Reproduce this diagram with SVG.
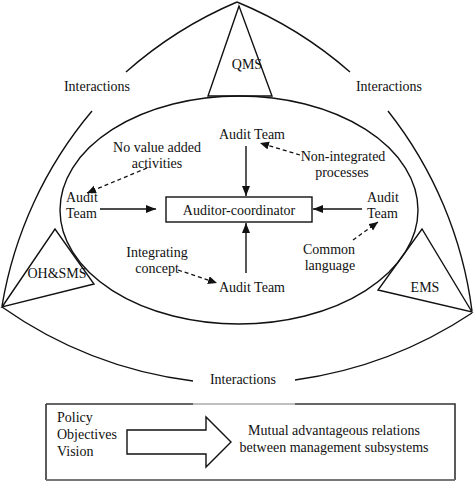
<svg xmlns="http://www.w3.org/2000/svg" width="474" height="481" viewBox="0 0 474 481" font-family="'Liberation Serif', 'DejaVu Serif', serif">
<defs>
<style>
.t{font-family:'Liberation Serif','DejaVu Serif',serif;font-size:14px;fill:#111}
.m{text-anchor:middle}
.s{fill:none;stroke:#111;stroke-width:1.4}
.d{fill:none;stroke:#111;stroke-width:1.3;stroke-dasharray:4,3}
</style>
<marker id="ah" markerUnits="userSpaceOnUse" markerWidth="11" markerHeight="9" refX="10" refY="4" orient="auto"><path d="M0,0 L10,4 L0,8 z" fill="#111"/></marker>
<marker id="dh" markerUnits="userSpaceOnUse" markerWidth="10" markerHeight="9" refX="9" refY="4" orient="auto"><path d="M0,0 L9,4 L0,8 z" fill="#111"/></marker>
</defs>
<rect width="474" height="481" fill="#fff"/>
<g id="outer">
<path class="s" d="M237,2 A406,406 0 0 0 126,72"/>
<path class="s" d="M92,111 A406,406 0 0 0 2,306"/>
<path class="s" d="M237,2 A406,406 0 0 1 350,72"/>
<path class="s" d="M388,111 A406,406 0 0 1 472,311"/>
<path class="s" d="M2,307 A424,424 0 0 0 193,381"/>
<path class="s" d="M295,380 A424,424 0 0 0 472,313"/>
</g>
<g id="labels-interactions">
<text class="t m" x="97" y="91">Interactions</text>
<text class="t m" x="389" y="91">Interactions</text>
<text class="t m" x="243" y="384">Interactions</text>
</g>
<g id="ellipse"><ellipse class="s" cx="239" cy="210" rx="179" ry="114"/></g>
<g id="qms">
<polygon class="s" points="239,6 208,96 272,96"/>
<text class="t m" x="247" y="69">QMS</text>
</g>
<g id="ohsms">
<polygon class="s" points="2,307 55,229 94,284"/>
<text class="t m" x="57" y="278">OH&amp;SMS</text>
</g>
<g id="ems">
<polygon class="s" points="472,312 422,229 378,290"/>
<text class="t m" x="425" y="292">EMS</text>
</g>
<g id="coordinator">
<rect class="s" x="166" y="197" width="146" height="25"/>
<text class="t m" x="239" y="215">Auditor-coordinator</text>
</g>
<g id="team-top"><text class="t m" x="252" y="139">Audit Team</text></g>
<g id="team-bottom"><text class="t m" x="252" y="292">Audit Team</text></g>
<g id="team-left"><text class="t" x="66" y="202">Audit</text><text class="t" x="66" y="218">Team</text></g>
<g id="team-right"><text class="t" x="367" y="202">Audit</text><text class="t" x="367" y="218">Team</text></g>
<g id="note-novalue"><text class="t m" x="157" y="152">No value added</text><text class="t m" x="157" y="168">activities</text></g>
<g id="note-nonint"><text class="t m" x="343" y="161">Non-integrated</text><text class="t m" x="342" y="177">processes</text></g>
<g id="note-common"><text class="t m" x="329" y="254">Common</text><text class="t m" x="330" y="270">language</text></g>
<g id="note-integrating"><text class="t m" x="157" y="257">Integrating</text><text class="t m" x="157" y="273">concept</text></g>
<g id="connectors">
<line class="s" x1="246" y1="146" x2="246" y2="196" marker-end="url(#ah)"/>
<line class="s" x1="246" y1="273" x2="246" y2="223" marker-end="url(#ah)"/>
<line class="s" x1="100" y1="209" x2="156" y2="209" marker-end="url(#ah)"/>
<line class="s" x1="362" y1="209" x2="313" y2="209" marker-end="url(#ah)"/>
<line class="d" x1="147" y1="168" x2="87" y2="193" marker-end="url(#dh)"/>
<line class="d" x1="300" y1="155" x2="260" y2="143" marker-end="url(#dh)"/>
<line class="d" x1="353" y1="240" x2="378" y2="222" marker-end="url(#dh)"/>
<line class="d" x1="178" y1="270" x2="217" y2="283" marker-end="url(#dh)"/>
</g>
<g id="legend">
<path d="M46,404 H193 M295,404 H455 V480 M46,404 V480" fill="none" stroke="#333" stroke-width="1.6"/>
<path d="M193,404 H295" fill="none" stroke="#aaa" stroke-width="1.6"/>
<path d="M46,480 H455" fill="none" stroke="#777" stroke-width="2"/>
<text class="t" x="57" y="422">Policy</text>
<text class="t" x="57" y="439">Objectives</text>
<text class="t" x="57" y="456">Vision</text>
<polygon class="s" points="127,430 206,430 206,417 231,442 206,467 206,454 127,454"/>
<text class="t m" x="334" y="435">Mutual advantageous relations</text>
<text class="t m" x="334" y="452">between management subsystems</text>
</g>
</svg>
